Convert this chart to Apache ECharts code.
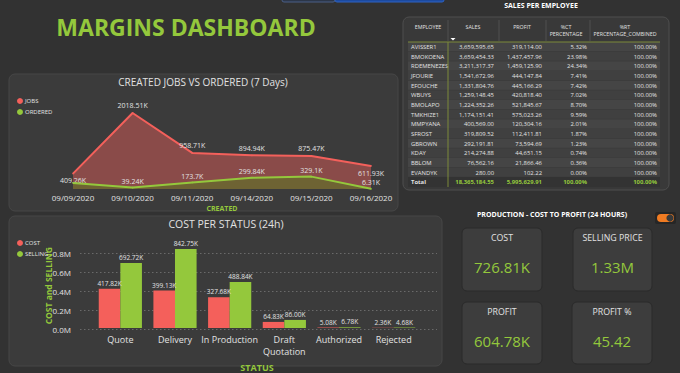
<!DOCTYPE html>
<html><head><meta charset="utf-8">
<script src="https://cdn.jsdelivr.net/npm/echarts@6/dist/echarts.min.js"></script>
<style>html,body{margin:0;padding:0;background:#323232;overflow:hidden}#c{width:680px;height:373px}</style>
</head><body><div id="c"></div>
<script>
// ---------- DATA ----------
const dates = ['09/09/2020','09/10/2020','09/11/2020','09/14/2020','09/15/2020','09/16/2020'];
const jobs = [409.26, 2018.51, 958.71, 894.94, 875.47, 611.93];      // K
const ordered = [160.0, 39.24, 173.7, 299.84, 329.1, 6.31];           // K
const statuses = ['Quote','Delivery','In Production','Draft Quotation','Authorized','Rejected'];
const cost = [417.82, 399.13, 327.68, 64.83, 5.08, 2.36];             // K
const selling = [692.72, 842.75, 488.84, 86.00, 6.78, 4.68];          // K
const costTicks = [0, 200, 400, 600, 800];                            // K
const employees = ['AVISSER1','BMOKOENA','RDEMENEZES','JFOURIE','EFOUCHE','WBUYS','BMOLAPO','TMKHIZE1','MMPYANA','SFROST','GBROWN','KDAY','BBLOM','EVANDYK'];
const sales = [3659595.65,3659454.33,3211317.37,1541672.96,1331804.76,1259148.45,1224352.26,1174151.41,400569.00,319809.52,292191.81,214274.88,76562.16,280.00];
const profit = [319114.00,1437457.96,1459125.90,444147.84,445166.29,420818.40,521845.67,575023.26,120304.16,112411.81,73594.69,44651.15,21866.46,102.22];
const ctPct = [5.32,23.98,24.34,7.41,7.42,7.02,8.70,9.59,2.01,1.87,1.23,0.74,0.36,0.00];
const rtPct = [100,100,100,100,100,100,100,100,100,100,100,100,100,100];
const totals = ['18,365,184.55','5,995,629.91','100.00%','100.00%'];
const tableHeaders = ['EMPLOYEE','SALES','PROFIT','%CT\nPERCENTAGE','%RT\nPERCENTAGE_COMBINED'];
const kpiLabels = ['COST','SELLING PRICE','PROFIT','PROFIT %'];
const kpiValues = ['726.81K','1.33M','604.78K','45.42'];

// ---------- STYLE ----------
const GREEN = '#94c83c', RED = '#f4605b', TXT = '#e2e2e2', FONT = '"Open Sans", "Noto Sans", sans-serif';
const fmtNum = v => { const p = v.toFixed(2).split('.'); return p[0].replace(/\B(?=(\d{3})+(?!\d))/g, ',') + '.' + p[1]; };

const chart = echarts.init(document.getElementById('c'), null, {renderer: 'svg'});

const panel = (x, y, w, h, r, fill, stroke) => ({type:'rect', z:-5, shape:{x, y, width:w, height:h, r}, style:{fill, stroke, lineWidth:1}});
const txt = (x, y, text, size, color, weight, align, lh) => ({type:'text', z:50, x, y, style:{text, fill:color, font:(weight||'normal')+' '+size+'px '+FONT, lineHeight:lh, align:align||'center', verticalAlign:'middle'}});

const graphics = [
  {type:'rect', z:-6, shape:{x:282, y:-4, width:53, height:6, r:2}, style:{fill:'#2c3648', stroke:'#4a5f86'}},
  {type:'rect', z:-6, shape:{x:335, y:-4, width:109, height:6, r:2}, style:{fill:'#1c4aa0', stroke:'#2e62c2'}},
  panel(9, 74, 389, 137, 6, '#3b3b3b', '#474747'),
  panel(9, 216, 433, 150, 6, '#3b3b3b', '#474747'),
  panel(403, 17, 266, 173, 6, '#393939', '#4e4e4e'),
  txt(186, 27, 'MARGINS DASHBOARD', 23, GREEN, 'bold'),
  txt(203, 82, 'CREATED JOBS VS ORDERED (7 Days)', 10, TXT),
  txt(226, 224, 'COST PER STATUS (24h)', 10.5, TXT),
  txt(541, 5, 'SALES PER EMPLOYEE', 7, '#ffffff', 'bold'),
  txt(552, 214, 'PRODUCTION - COST TO PROFIT (24 HOURS)', 7, '#ffffff', 'bold'),
  // toggle
  {type:'rect', z:10, shape:{x:655, y:212, width:21, height:12, r:2}, style:{fill:'#262626'}},
  {type:'rect', z:11, shape:{x:657, y:214, width:17, height:8, r:4}, style:{fill:'#f07b22'}},
  {type:'circle', z:12, shape:{cx:670, cy:218, r:3.6}, style:{fill:'#3a3a3a'}},
  // table header
  {type:'line', z:20, shape:{x1:408, y1:42, x2:660, y2:42}, style:{stroke:'#7d8a3a', lineWidth:1}},
  {type:'line', z:20, shape:{x1:448, y1:42, x2:448, y2:187}, style:{stroke:'#7d8a3a', lineWidth:1}},
  {type:'polygon', z:20, shape:{points:[[450.5,38],[455.5,38],[453,40.5]]}, style:{fill:'#ffffff'}}
];
[448, 499, 546, 590].forEach(x => graphics.push({type:'line', z:20, shape:{x1:x, y1:20, x2:x, y2:41}, style:{stroke:'#555', lineWidth:0.8}}));
const headX = [428, 473, 522, 566, 625];
tableHeaders.forEach((h, k) => graphics.push(txt(headX[k], h.indexOf('\n') > 0 ? 30.5 : 27, h, 5.3, TXT, 'normal', 'center', 7.5)));
// KPI cards
const cards = [[462,228,80,63],[573,228,79,63],[462,302,80,62],[572,302,80,62]];
kpiLabels.forEach((l, k) => {
  const [x, y, w, h] = cards[k];
  graphics.push(panel(x, y, w, h, 5, '#3d3d3d', '#2a2a2a'));
  graphics.push(txt(x + w/2, y + 9.5, l, 8.8, TXT));
  graphics.push(txt(x + w/2, y + 38.5, kpiValues[k], 15, GREEN));
});

const rowNames = employees.concat(['Total']);
const colX = [3, 86, 134, 179, 249];

const option = {
  backgroundColor: '#323232',
  textStyle: {fontFamily: FONT},
  animation: false,
  graphic: graphics,
  legend: [
    {data:['JOBS','ORDERED'], orient:'vertical', left:12, top:93, icon:'circle', itemWidth:6, itemHeight:6, itemGap:5, textStyle:{color:TXT, fontSize:6, padding:[0,0,0,-3]}},
    {data:['COST','SELLING'], orient:'vertical', left:12, top:235, icon:'circle', itemWidth:6, itemHeight:6, itemGap:5, textStyle:{color:TXT, fontSize:6, padding:[0,0,0,-3]}}
  ],
  grid: [
    {left:73, right:309, top:113, bottom:184},
    {left:93, right:259, top:243.5, bottom:44},
    {left:80, right:243, top:253, bottom:44},
    {left:408, right:20, top:42, height:145}
  ],
  xAxis: [
    {gridIndex:0, type:'category', data:dates, boundaryGap:false, axisLine:{show:false}, axisTick:{show:false},
     axisLabel:{color:TXT, fontSize:8, margin:4, interval:0}, name:'CREATED', nameLocation:'middle', nameGap:16,
     nameTextStyle:{color:GREEN, fontSize:7, fontWeight:'bold'}},
    {gridIndex:1, type:'category', data:statuses, axisLine:{show:false}, axisTick:{show:false},
     axisLabel:{color:TXT, fontSize:9, margin:6, lineHeight:11.5, interval:0, formatter: v => v.length > 13 ? v.replace(' ', '\n') : v},
     name:'STATUS', nameLocation:'middle', nameGap:35, nameTextStyle:{color:GREEN, fontSize:9, fontWeight:'bold'}},
    {gridIndex:2, type:'value', show:false, min:0, max:1},
    {gridIndex:3, type:'value', show:false, min:0, max:1}
  ],
  yAxis: [
    {gridIndex:0, type:'value', min:0, max:'dataMax', show:false},
    {gridIndex:1, type:'value', min:0, max:900, axisLabel:{show:false}, axisLine:{show:false}, axisTick:{show:false}, splitLine:{show:false},
     name:'COST and SELLING', nameLocation:'middle', nameRotate:90, nameGap:40, nameTextStyle:{color:GREEN, fontSize:8.5, fontWeight:'bold'}},
    {gridIndex:2, type:'value', min:costTicks[0], max:costTicks[costTicks.length-1], interval:costTicks[1]-costTicks[0],
     axisLine:{show:false}, axisTick:{show:false},
     axisLabel:{color:TXT, fontSize:8, margin:9, formatter: v => (v/1000).toFixed(1) + 'M'},
     splitLine:{lineStyle:{color:'#6a6a6a', type:[1.5,2.5], width:1}}},
    {gridIndex:3, type:'category', data:rowNames, inverse:true, show:false}
  ],
  series: [
    {name:'JOBS', type:'line', xAxisIndex:0, yAxisIndex:0, z:2, symbol:'circle', symbolSize:1.5,
     itemStyle:{color:RED}, lineStyle:{color:RED, width:2}, areaStyle:{color:'#8a4b49', opacity:1},
     label:{show:true, color:TXT, fontSize:7, distance:3, formatter: p => p.value + 'K'},
     data: jobs.map((v, i) => ({value:v, label:{position:(i === 0 || i === jobs.length-1) ? 'bottom' : 'top'}}))},
    {name:'ORDERED', type:'line', xAxisIndex:0, yAxisIndex:0, z:3, symbol:'circle', symbolSize:1.5,
     itemStyle:{color:GREEN}, lineStyle:{color:GREEN, width:2}, areaStyle:{color:'#6e6333', opacity:1},
     label:{show:true, color:TXT, fontSize:7, distance:2, position:'top', formatter: p => p.value + 'K'},
     data: ordered.map((v, i) => ({value:v, label:{show: i !== 0}}))},
    {name:'COST', type:'bar', xAxisIndex:1, yAxisIndex:1, barGap:'0%', barCategoryGap:'21%', data:cost,
     itemStyle:{color:RED}, label:{show:true, position:'top', distance:2, color:TXT, fontSize:6.5, formatter: p => p.value.toFixed(2) + 'K'}},
    {name:'SELLING', type:'bar', xAxisIndex:1, yAxisIndex:1, barGap:'0%', barCategoryGap:'21%', data:selling,
     itemStyle:{color:GREEN}, label:{show:true, position:'top', distance:2, color:TXT, fontSize:6.5, formatter: p => p.value.toFixed(2) + 'K'}},
    {name:'table', type:'custom', xAxisIndex:3, yAxisIndex:3, silent:true,
     data: rowNames.map((n, i) => [0, i]),
     renderItem: (params, api) => {
       const i = params.dataIndex, cs = params.coordSys;
       const y = api.coord([0, i])[1], h = api.size([0, 1])[1];
       const tot = i === employees.length;
       const cells = tot ? ['Total'].concat(totals)
         : [employees[i], fmtNum(sales[i]), fmtNum(profit[i]), ctPct[i].toFixed(2) + '%', rtPct[i].toFixed(2) + '%'];
       const children = [
         {type:'rect', shape:{x:cs.x, y:y - h/2, width:cs.width, height:h}, style:{fill: tot ? '#333333' : (i % 2 ? '#404040' : '#454545')}},
         {type:'line', shape:{x1:cs.x, y1:y + h/2, x2:cs.x + cs.width, y2:y + h/2}, style:{stroke:'#363636', lineWidth:0.6}}
       ];
       cells.forEach((t, k) => children.push({type:'text', x:cs.x + colX[k], y:y,
         style:{text:t, fill:(tot && k > 0) ? GREEN : TXT, font:(tot ? 'bold ' : '') + '5.9px ' + FONT,
                align: k === 0 ? 'left' : 'right', verticalAlign:'middle'}}));
       return {type:'group', children};
     }}
  ]
};
chart.setOption(option);
</script></body></html>
